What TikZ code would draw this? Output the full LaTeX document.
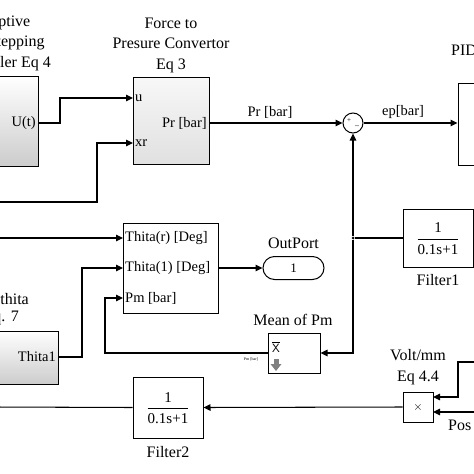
\documentclass[tikz,border=0pt]{standalone}
\usepackage{fontspec}
\setmainfont{Liberation Serif}
\usetikzlibrary{arrows.meta,shadows,shapes.misc}
\begin{document}
\begin{tikzpicture}[x=1pt,y=-1pt,
  blk/.style={draw, line width=1pt, fill=white, inner sep=0pt,
    general shadow={fill=black!65, shadow xshift=1.2pt, shadow yshift=-1.2pt}},
  sub/.style={blk, top color=white, bottom color=gray!40},
  lsub/.style={blk, top color=gray!6, bottom color=gray!24},
  ln/.style={line width=1.05pt},
  arr/.style={ln, -{Triangle[length=7pt,width=6.5pt]}},
  ttl/.style={font=\fontsize{16}{20.5}\selectfont, align=center, inner sep=0pt},
  prt/.style={font=\fontsize{14.5}{17}\selectfont, inner sep=0pt},
  frac/.style={font=\fontsize{15}{17}\selectfont, inner sep=0pt},
]
\useasboundingbox (0,0) rectangle (474,474);
\clip (0,0) rectangle (474,474);

% ---- blocks
\node[sub, minimum width=78pt, minimum height=90pt] (ctrl) at (-1,121) {};
\node[lsub, minimum width=76pt, minimum height=87pt] (force) at (171,120.5) {};
\node[draw, line width=1pt, circle, minimum size=20pt, inner sep=0pt, fill=white] (sum) at (353,123) {};
\node[blk, minimum width=42pt, minimum height=82pt] (pid) at (479,124) {};
\node[blk, minimum width=95pt, minimum height=90pt] (mid) at (170.5,268) {};
\node[draw, line width=1pt, rounded rectangle, minimum width=61pt, minimum height=23pt, inner sep=0pt,
  font=\fontsize{13}{13}\selectfont] (outp) at (293.5,268) {1};
\node[blk, minimum width=52pt, minimum height=40pt] (mean) at (294,353) {};
\node[blk, minimum width=70pt, minimum height=58pt] (filt1) at (438,238) {};
\node[sub, minimum width=98pt, minimum height=53pt] (thb) at (9,357.5) {};
\node[blk, minimum width=70pt, minimum height=61pt] (filt2) at (168,407.5) {};
\node[blk, minimum width=30pt, minimum height=30pt, font=\fontsize{13}{13}\selectfont] (mul) at (418,407) {$\times$};

% ---- titles
\node[ttl] (tctrl) at (1,43) {Adaptive\\Backstepping\\Controller Eq 4};
\node[ttl] (tforce) at (171,45) {Force to\\Presure Convertor\\Eq 3};
\node[ttl, anchor=west] (tpid) at (451,50) {PID};
\node[ttl] (tout) at (293.5,243) {OutPort};
\node[ttl] (tmean) at (293,320) {Mean of Pm};
\node[ttl] (tf1) at (438,280) {Filter1};
\node[ttl] (tf2) at (168,452) {Filter2};
\node[ttl] (tvolt) at (418,367) {Volt/mm\\Eq 4.4};
\node[ttl, anchor=east] (tth1) at (29,299) {thita};
\node[ttl, anchor=east] (tth2) at (19,318) {Eq. 7};
\node[ttl, anchor=west] (tpos) at (448,425) {Pos};

% ---- port labels
\node[prt, anchor=east] (lU) at (36,123) {U(t)};
\node[prt, anchor=west] (lu) at (135,98) {u};
\node[prt, anchor=west] (lxr) at (135,143) {xr};
\node[prt, anchor=east] (lpr) at (207,123) {Pr [bar]};
\node[prt, anchor=west] (lthr) at (125,238) {Thita(r) [Deg]};
\node[prt, anchor=west] (lth1) at (125,268) {Thita(1) [Deg]};
\node[prt, anchor=west] (lpm) at (125,298) {Pm [bar]};
\node[prt, anchor=east] (lthita1) at (56,357) {Thita1};
\node[inner sep=0pt, font=\fontsize{4}{4}\selectfont] (lpmsmall) at (251,359) {Pm [bar]};
\node[inner sep=0pt, font=\fontsize{7}{7}\selectfont] (splus) at (349,121) {+};
\node[inner sep=0pt, font=\fontsize{8}{8}\selectfont] (sminus) at (357,126) {\_};

% filter contents
\node[frac] (f1tf) at (438,240) {\begin{tabular}{@{}c@{}}1\\[1pt]\hline\rule{0pt}{15pt}0.1s+1\end{tabular}};
\node[frac] (f2tf) at (168,409.5) {\begin{tabular}{@{}c@{}}1\\[1pt]\hline\rule{0pt}{15pt}0.1s+1\end{tabular}};

% mean icon
\node[inner sep=0pt, font=\sffamily\fontsize{12}{12}\selectfont] (xbar) at (276,347) {$\overline{\mbox{X}}$};
\fill[gray] (273.5,359) rectangle (278.5,365);
\fill[gray] (270.5,364) -- (281.5,364) -- (276,371) -- cycle;

% ---- ports
\coordinate (ctrlout) at (38,123);
\coordinate (forceu) at (133,98);
\coordinate (forcexr) at (133,143);
\coordinate (xrsrc) at (-5,202);
\coordinate (forceout) at (209,123);
\coordinate (midr) at (123,238);
\coordinate (mid1) at (123,268);
\coordinate (midpm) at (123,298);
\coordinate (thrsrc) at (-5,238);
\coordinate (thbout) at (58,357);
\coordinate (f2dst) at (-5,407);
\coordinate (m1src) at (480,362);
\coordinate (mulin1) at (433,397);
\coordinate (m2src) at (480,412);
\coordinate (mulin2) at (433,412);
\node[circle, fill, inner sep=0pt, minimum size=3pt] (junc) at (353,238) {};

% ---- connectors
\draw[arr] (ctrlout) -- (60,123) |- (forceu);
\draw[arr] (xrsrc) -| (97,143) -- (forcexr);
\draw[arr] (forceout) -- (sum.west);
\node[prt] (lblpr) at (270,112) {Pr [bar]};
\draw[arr] (sum.east) -- (sum.east -| pid.west);
\node[prt] (lblep) at (403,112) {ep[bar]};
\draw[ln] (filt1.west) -- (junc);
\draw[arr] (junc) -- (sum.south);
\draw[arr] (junc) |- (mean.east);
\draw[arr] (mean.west) -- (105,353) |- (midpm);
\draw[arr] (thrsrc) -- (midr);
\draw[arr] (thbout) -- (82,357) |- (mid1);
\draw[arr] (mid.east) -- (outp.west);
\draw[arr] (mul.west) -- (filt2.east);
\draw[ln] (filt2.west) -- (f2dst);
\draw[arr] (m1src) -- (458,362) |- (mulin1);
\draw[arr] (m2src) -- (mulin2);
\end{tikzpicture}
\end{document}
